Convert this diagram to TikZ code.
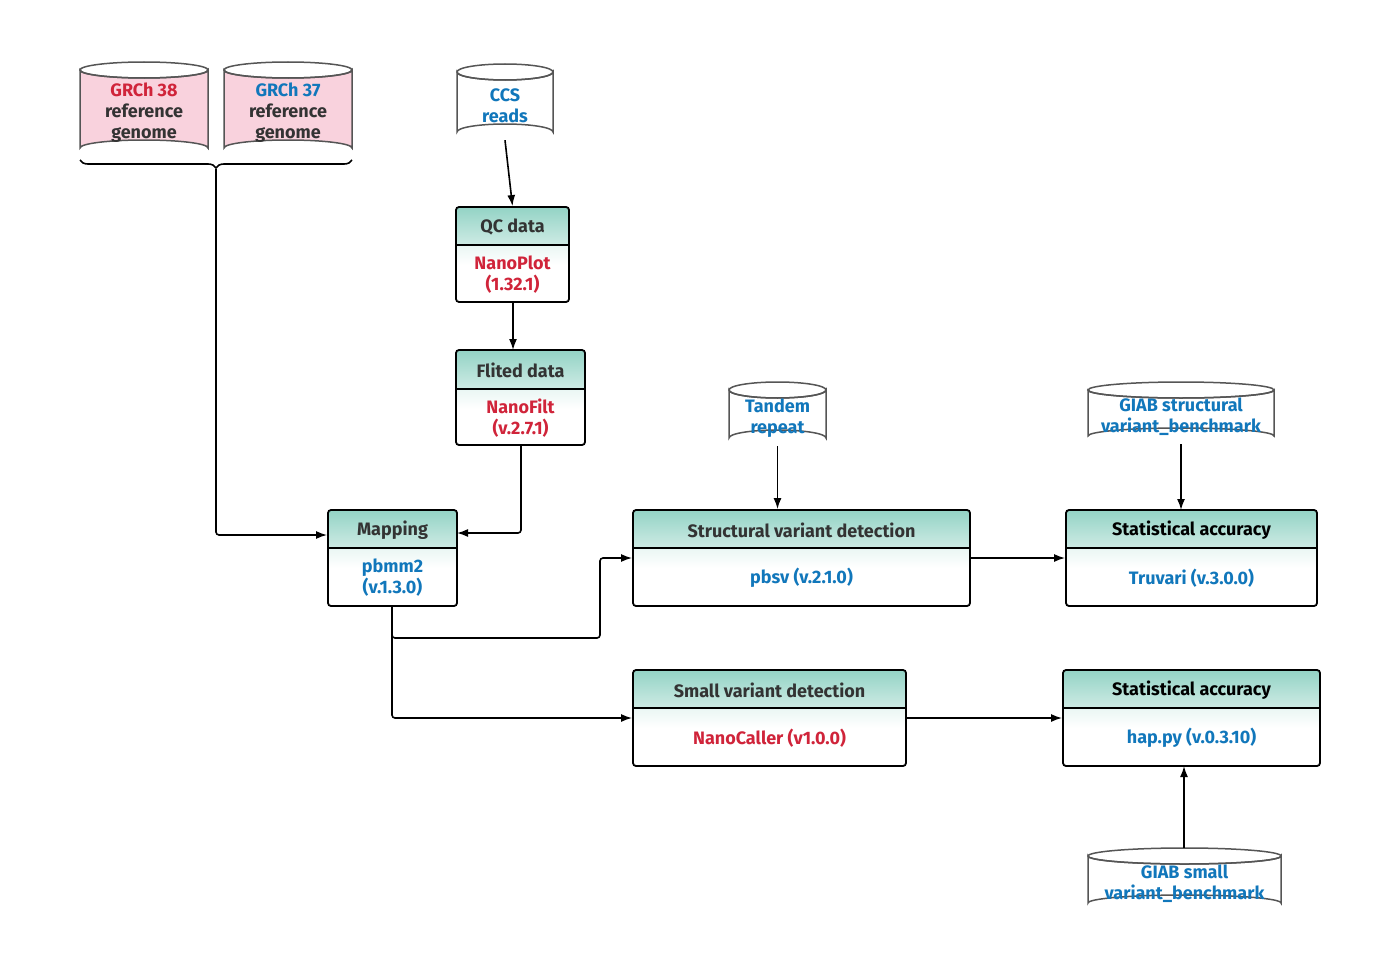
\documentclass[tikz,border=0pt]{standalone}
\usepackage{fontspec}
\setmainfont{Fira Sans}
\usetikzlibrary{fit,arrows.meta,decorations.pathreplacing}
\definecolor{cred}{HTML}{D0243A}
\definecolor{cblue}{HTML}{1177BB}
\definecolor{cdark}{HTML}{333333}
\definecolor{cpink}{HTML}{F9D2DD}
\definecolor{cteal}{HTML}{93D3C5}
\definecolor{cgray}{HTML}{555555}
\tikzset{
  txt/.style={font=\bfseries\fontsize{18}{21}\selectfont,align=center,inner sep=0},
  conn/.style={line width=1.6pt,-{Latex[length=11pt,width=8pt]}},
  line/.style={line width=1.6pt},
}
\newcommand\flowbox[8]{%
  \begin{scope}
  \clip[rounded corners=3pt] (#2,#3) rectangle (#4,#6);
  \shade[top color=cteal,bottom color=cteal!45!white] (#2,#3) rectangle (#4,#5);
  \shade[top color=cteal!20!white,bottom color=white] (#2,#5) rectangle (#4,{#5+20});
  \end{scope}
  \draw[line width=1.6pt] (#2,#5) -- (#4,#5);
  \node[fit={(#2,#3)(#4,#6)},inner sep=0,draw,line width=1.8pt,rounded corners=3pt] (#1) {};
  \node[txt,text=cdark] at ({(#2+#4)/2},{(#3+#5)/2+1}) {#7};
  \node[txt] at ({(#2+#4)/2},{(#5+#6)/2+1}) {#8};
}
\newcommand\cyl[7]{%
  \draw[line width=1.5pt,draw=cgray,fill=#6] (#2,{#3+8}) -- (#2,{#5-8}) arc[start angle=180,end angle=360,x radius={(#4-#2)/2},y radius=8] -- (#4,{#3+8}) arc[start angle=0,end angle=180,x radius={(#4-#2)/2},y radius=8] -- cycle;
  \draw[line width=1.5pt,draw=cgray] ({(#2+#4)/2},{#3+8}) ellipse[x radius={(#4-#2)/2},y radius=8];
  \node[fit={(#2,#3)(#4,#5)},inner sep=0] (#1) {};
  \node[txt] at ({(#2+#4)/2},{(#3+#5)/2+4}) {#7};
}
\begin{document}
\begin{tikzpicture}[x=1pt,y=-1pt]
\useasboundingbox[fill=white] (0,0) rectangle (1400,974);
\cyl{g38}{80}{62}{208}{156}{cpink}{\textcolor{cred}{GRCh 38}\\\textcolor{cdark}{reference}\\\textcolor{cdark}{genome}}
\cyl{g37}{224}{62}{352}{156}{cpink}{\textcolor{cblue}{GRCh 37}\\\textcolor{cdark}{reference}\\\textcolor{cdark}{genome}}
\cyl{ccs}{457}{64}{553}{140}{white}{\textcolor{cblue}{CCS}\\\textcolor{cblue}{reads}}
\cyl{tan}{729}{382}{826}{446}{white}{\textcolor{cblue}{Tandem}\\\textcolor{cblue}{repeat}}
\cyl{giabsv}{1088}{382}{1274}{444}{white}{\textcolor{cblue}{GIAB structural}\\\textcolor{cblue}{variant\_benchmark}}
\cyl{giabsm}{1088}{848}{1281}{911}{white}{\textcolor{cblue}{GIAB small}\\\textcolor{cblue}{variant\_benchmark}}

\flowbox{qc}{456}{207}{569}{245}{302}{QC data}{\textcolor{cred}{NanoPlot}\\\textcolor{cred}{(1.32.1)}}
\flowbox{flt}{456}{350}{585}{389}{445}{Flited data}{\textcolor{cred}{NanoFilt}\\\textcolor{cred}{(v.2.7.1)}}
\flowbox{map}{328}{510}{457}{548}{606}{Mapping}{\textcolor{cblue}{pbmm2}\\\textcolor{cblue}{(v.1.3.0)}}
\flowbox{sv}{633}{510}{970}{548}{606}{Structural variant detection}{\textcolor{cblue}{pbsv (v.2.1.0)}}
\flowbox{st1}{1066}{510}{1317}{548}{606}{\textcolor{black}{Statistical accuracy}}{\textcolor{cblue}{Truvari (v.3.0.0)}}
\flowbox{sm}{633}{670}{906}{708}{766}{Small variant detection}{\textcolor{cred}{NanoCaller (v1.0.0)}}
\flowbox{st2}{1063}{670}{1320}{708}{766}{\textcolor{black}{Statistical accuracy}}{\textcolor{cblue}{hap.py (v.0.3.10)}}

\draw[line,decorate,decoration={brace,mirror,amplitude=8pt}] (80,160) -- (352,160);
\coordinate (btip) at (216,169);
\draw[conn,rounded corners=3pt] (btip) -- (216,535) -- (map.west |- 0,535);
\draw[conn] (ccs.south) -- (qc.north);
\draw[conn] (qc.south -| 513,0) -- (513,350);
\draw[conn,rounded corners=3pt] (flt.south -| 521,0) -- (521,533) -- (457,533);
\draw[conn,rounded corners=3pt] (map.south -| 392,0) -- (392,638) -- (600,638) -- (600,558) -- (sv.west |- 0,558);
\draw[conn,rounded corners=3pt] (392,630) -- (392,718) -- (sm.west |- 0,718);
\draw[conn] (sv.east |- 0,558) -- (st1.west |- 0,558);
\draw[conn] (sm.east |- 0,718) -- (st2.west |- 0,718);
\draw[conn] (tan.south) -- (sv.north -| tan.south);
\draw[conn] (giabsv.south -| 1181,0) -- (1181,510);
\draw[conn] (giabsm.north -| 1184,0) -- (1184,766);
\end{tikzpicture}
\end{document}
